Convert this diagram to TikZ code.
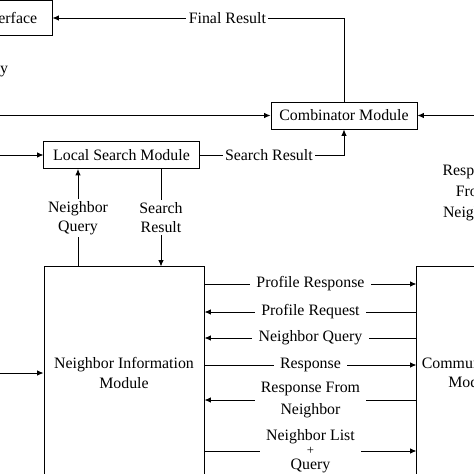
\documentclass[tikz,border=0pt]{standalone}
\usepackage{fontspec}
\setmainfont{Liberation Serif}
\usetikzlibrary{arrows.meta}

\begin{document}
\begin{tikzpicture}[x=0.63pt,y=-0.63pt,line width=0.6pt,>={Latex[length=4pt,width=3.5pt]},
	box/.style={draw,inner sep=2pt,align=center},
	lbl/.style={fill=white,inner sep=1.5pt,align=center}]
	\useasboundingbox (0,0) rectangle (474,474);
	\clip (0,0) rectangle (474,474);
	\node[box,minimum width=75.6pt,minimum height=22pt] (ui) at (-8,18) {User Interface};
	\node[box,minimum width=92pt,minimum height=17pt] (comb) at (344,115.5) {Combinator Module};
	\node[box,minimum width=97.7pt,minimum height=17pt] (lsm) at (121.5,155) {Local Search Module};
	\node[box,minimum width=100.8pt,minimum height=133.6pt] (nim) at (124,373) {Neighbor Information\\Module};
	\node[box,minimum width=70.6pt,minimum height=133.6pt] (cm) at (473,373) {Communication\\Module};
	\node[inner sep=0pt,anchor=base east] (uq) at (8.5,73.5) {Query};
	\node[align=center,inner sep=0pt] (rfn) at (473,193) {Response\\[1pt]From\\[1pt]Neighbor};
	\coordinate (cin) at (-10,115.5);
	\coordinate (cout) at (490,115.5);
	\coordinate (lin) at (-10,155);
	\coordinate (nin) at (-10,373);
	\coordinate (nq) at (78,0);
	\coordinate (sr) at (161,0);
	\draw[->] (comb.north) |- (ui.east) node[lbl,pos=0.7]{Final Result};
	\draw[->] (cin) -- (comb.west);
	\draw[->] (cout) -- (comb.east);
	\draw[->] (lin) -- (lsm.west);
	\draw[->] (lsm.east) -| (comb.south) node[lbl,pos=0.24]{Search Result};
	\draw[->] (nq |- nim.north) -- (nq |- lsm.south) node[lbl,midway]{Neighbor\\Query};
	\draw[->] (sr |- lsm.south) -- (sr |- nim.north) node[lbl,midway]{Search\\Result};
	\draw[->] (nin) -- (nim.west);
	\foreach \yy/\txt/\from/\to in {284/{Profile Response}/nim.east/cm.west,
		312/{Profile Request}/cm.west/nim.east,
		338/{Neighbor Query}/cm.west/nim.east,
		365/{Response}/nim.east/cm.west,
		400/{Response From\\[2pt]Neighbor}/cm.west/nim.east,
		451/{Neighbor List\\[-3pt]{\footnotesize +}\\[-3pt]Query}/nim.east/cm.west}
		\draw[->] (\from |- 0,\yy) -- (\to |- 0,\yy) node[lbl,midway,inner xsep=4pt]{\txt};
\end{tikzpicture}
\end{document}
